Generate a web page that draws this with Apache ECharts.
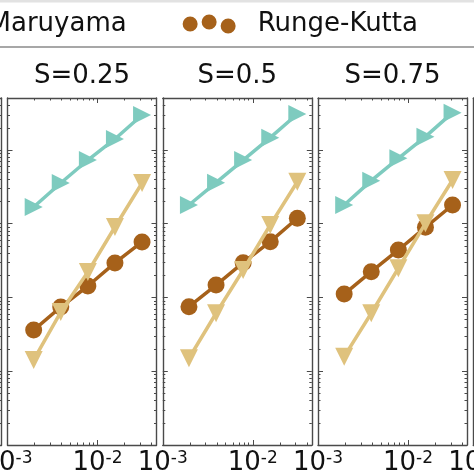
<!DOCTYPE html>
<html>
<head>
<meta charset="utf-8">
<script src="https://cdn.jsdelivr.net/npm/echarts@6/dist/echarts.min.js"></script>
<style>
  html, body { margin: 0; padding: 0; background: #fff; }
  #chart { width: 474px; height: 474px; }
</style>
</head>
<body>
<div id="chart"></div>
<script>
// step sizes (x) shared by every panel
var dt = [0.001953, 0.003906, 0.007813, 0.015625, 0.03125];
var panelTitles = ['S=0.25', 'S=0.5', 'S=0.75'];
// errors, one row per panel (S=0.25, S=0.5, S=0.75)
var emErr = [
    [0.01687, 0.0357, 0.0731, 0.141, 0.2985],
    [0.01795, 0.0361, 0.0731, 0.1469, 0.3076],
    [0.01795, 0.0384, 0.0771, 0.1517, 0.3206]
];
var milErr = [
    [1.422e-4, 6.35e-4, 2.218e-3, 9.04e-3, 0.0357],
    [1.50e-4, 6.11e-4, 2.36e-3, 9.62e-3, 0.03715],
    [1.578e-4, 6.11e-4, 2.49e-3, 1.014e-2, 0.0392]
];
var rkErr = [
    [3.62e-4, 7.43e-4, 1.432e-3, 2.94e-3, 5.66e-3],
    [7.5e-4, 1.476e-3, 2.965e-3, 5.71e-3, 1.186e-2],
    [1.114e-3, 2.239e-3, 4.41e-3, 8.95e-3, 1.795e-2]
];
var xLabelDecades = [-3, -2];
var legendNames = ['Euler-Maruyama', 'Runge-Kutta'];

var FONT = 'DejaVu Sans';
var LINE = '#4a4a4a';
var TEAL = '#7ecbbf', TAN = '#dfc27d', BROWN = '#a6611a';

// panel layout: partial panel, three full panels, partial panel
var gridLefts = [-147.5, 7.5, 162.8, 318, 473.3];
var gridW = 149, gridTop = 98, gridH = 347;
var xMin = 0.001, xMax = 0.04524;
var yMin = 1e-5, yMax = 0.507;

function minorTicks(lo, hi) {
    var out = [];
    for (var n = Math.floor(lo); n < hi; n++) {
        for (var k = 2; k <= 9; k++) {
            var v = n + Math.log10(k);
            if (v > lo && v < hi) out.push(v);
        }
    }
    return out;
}
var xMinor = minorTicks(Math.log10(xMin), Math.log10(xMax));
var yMinor = minorTicks(Math.log10(yMin), Math.log10(yMax));

function xLabel(v) {
    var e = Math.log10(v), r = Math.round(e);
    if (Math.abs(e - r) > 1e-6 || xLabelDecades.indexOf(r) < 0) return '';
    return '{b|10}{s|' + r + '}';
}

var grids = [], xAxes = [], yAxes = [], series = [];

gridLefts.forEach(function (left, g) {
    grids.push({ left: left, top: gridTop, width: gridW, height: gridH, show: false,
        containLabel: false, outerBoundsMode: 'none' });

    var majorTick = { show: true, inside: true, length: 5, lineStyle: { color: LINE, width: 1 } };
    var axLine = { show: true, onZero: false, lineStyle: { color: LINE, width: 1.4 } };

    ['bottom', 'top'].forEach(function (pos) {
        xAxes.push({
            type: 'log', gridIndex: g, position: pos, min: xMin, max: xMax,
            axisLine: axLine, axisTick: majorTick, splitLine: { show: false },
            axisLabel: pos === 'bottom' ? {
                show: true, margin: 5, formatter: xLabel, color: '#111',
                rich: {
                    b: { fontSize: 26, fontFamily: FONT, color: '#111', lineHeight: 28, verticalAlign: 'top' },
                    s: { fontSize: 17, fontFamily: FONT, color: '#111', lineHeight: 17, verticalAlign: 'top' }
                }
            } : { show: false }
        });
    });
    ['bottom', 'top'].forEach(function (pos) {
        xAxes.push({
            type: 'value', gridIndex: g, position: pos,
            min: Math.log10(xMin), max: Math.log10(xMax),
            axisLine: { show: false }, axisLabel: { show: false }, splitLine: { show: false },
            axisTick: { show: true, inside: true, length: 2.5, customValues: xMinor,
                lineStyle: { color: LINE, width: 1 } }
        });
    });
    ['left', 'right'].forEach(function (pos) {
        yAxes.push({
            type: 'log', gridIndex: g, position: pos, min: yMin, max: yMax,
            axisLine: axLine, axisTick: majorTick, splitLine: { show: false },
            axisLabel: { show: false }
        });
    });
    ['left', 'right'].forEach(function (pos) {
        yAxes.push({
            type: 'value', gridIndex: g, position: pos,
            min: Math.log10(yMin), max: Math.log10(yMax),
            axisLine: { show: false }, axisLabel: { show: false }, splitLine: { show: false },
            axisTick: { show: true, inside: true, length: 2.5, customValues: yMinor,
                lineStyle: { color: LINE, width: 1 } }
        });
    });
});

function pts(vals) {
    return dt.map(function (x, i) { return [x, vals[i]]; });
}

panelTitles.forEach(function (t, p) {
    var g = p + 1;
    var common = { type: 'line', xAxisIndex: 4 * g, yAxisIndex: 4 * g, animation: false };
    series.push(Object.assign({}, common, {
        name: 'Runge-Kutta', data: pts(rkErr[p]),
        symbol: 'circle', symbolSize: 17,
        lineStyle: { color: BROWN, width: 3.5 }, itemStyle: { color: BROWN }, z: 2
    }));
    series.push(Object.assign({}, common, {
        name: 'Milstein', data: pts(milErr[p]),
        symbol: 'triangle', symbolRotate: 180, symbolSize: 18,
        lineStyle: { color: TAN, width: 3.5 }, itemStyle: { color: TAN }, z: 3
    }));
    series.push(Object.assign({}, common, {
        name: 'Euler-Maruyama', data: pts(emErr[p]),
        symbol: 'triangle', symbolRotate: -90, symbolSize: 18,
        lineStyle: { color: TEAL, width: 3.5 }, itemStyle: { color: TEAL }, z: 4
    }));
});

var graphics = [
    { type: 'rect', shape: { x: -10, y: 0, width: 500, height: 2.5 }, style: { fill: '#e2e2e2' }, silent: true },
    { type: 'line', shape: { x1: -10, y1: 47, x2: 490, y2: 47 }, style: { stroke: '#8a8a8a', lineWidth: 1.5 }, silent: true }
];
panelTitles.forEach(function (t, p) {
    graphics.push({
        type: 'text', x: gridLefts[p + 1] + gridW / 2, y: 76, silent: true,
        style: { text: t, fontSize: 26, fontFamily: FONT, fill: '#111', align: 'center', verticalAlign: 'middle' }
    });
});

var circlesIcon = 'path://M0,9.5 A7.5,7.5 0 1,0 15,9.5 A7.5,7.5 0 1,0 0,9.5 Z ' +
    'M19,7.5 A7.5,7.5 0 1,0 34,7.5 A7.5,7.5 0 1,0 19,7.5 Z ' +
    'M38,11.5 A7.5,7.5 0 1,0 53,11.5 A7.5,7.5 0 1,0 38,11.5 Z';
var trianglesIcon = 'path://M0,2 L15,9.5 L0,17 Z M19,0 L34,7.5 L19,15 Z M38,4 L53,11.5 L38,19 Z';

var chart = echarts.init(document.getElementById('chart'), null, { renderer: 'canvas' });
chart.setOption({
    animation: false,
    backgroundColor: '#fff',
    textStyle: { fontFamily: FONT },
    legend: {
        left: -161, top: 11, width: 1000, padding: 0,
        itemGap: 56, itemWidth: 53, itemHeight: 19,
        selectedMode: false,
        itemStyle: { borderWidth: 0 },
        textStyle: { fontSize: 26, fontFamily: FONT, color: '#111', lineHeight: 26, padding: [0, 0, 0, 17] },
        data: [
            { name: legendNames[0], icon: trianglesIcon },
            { name: legendNames[1], icon: circlesIcon }
        ]
    },
    graphic: graphics,
    grid: grids,
    xAxis: xAxes,
    yAxis: yAxes,
    series: series
});
</script>
</body>
</html>
